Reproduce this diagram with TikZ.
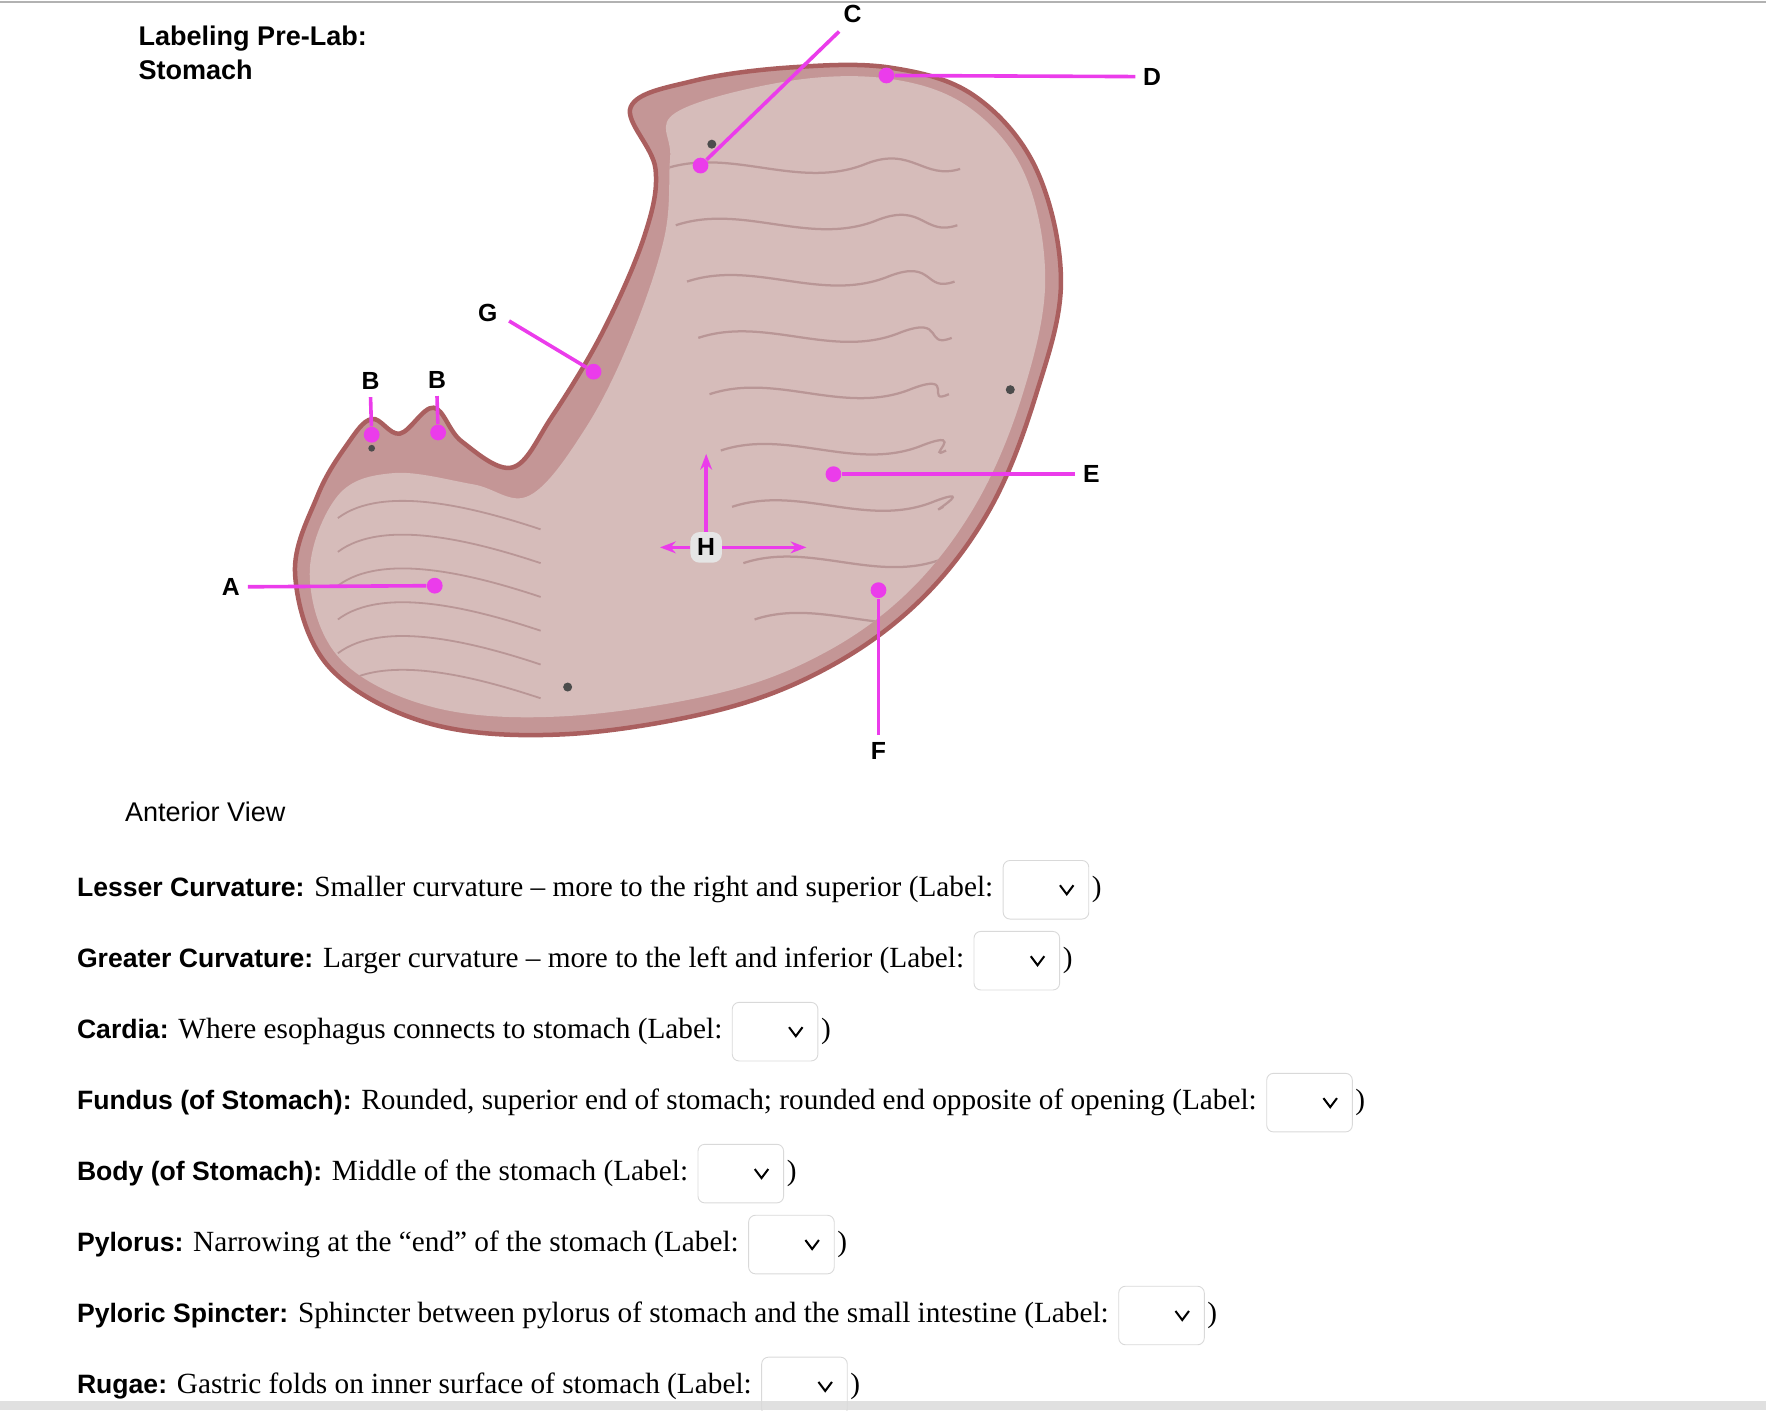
\documentclass[tikz,border=0pt]{standalone}
\usepackage{fontspec}
\setmainfont{Liberation Serif}
\setsansfont{Liberation Sans}
\usetikzlibrary{arrows.meta}
\definecolor{mag}{RGB}{235,60,235}
\definecolor{stouter}{RGB}{196,150,150}
\definecolor{stedge}{RGB}{170,95,95}
\definecolor{stinner}{RGB}{214,188,186}
\definecolor{rug}{RGB}{185,150,150}
\newcommand\qhead{\sffamily\bfseries\fontsize{11.8}{14}\selectfont}
\tikzset{
 lead/.style={draw=mag,line width=1.6pt},
 dot/.style={circle,fill=mag,inner sep=0pt,minimum size=7pt},
 lab/.style={font=\sffamily\bfseries\fontsize{11}{12}\selectfont},
 qline/.style={anchor=west,inner sep=0pt,font=\fontsize{13}{15}\selectfont},
 dd/.style={draw=black!15,rounded corners=3pt,minimum width=38pt,minimum height=26pt,anchor=west,inner sep=0pt}
}
\begin{document}
\begin{tikzpicture}[x=0.5pt,y=-0.5pt]
\useasboundingbox (0,0) rectangle (1568,1252);
\draw[black!30,line width=1pt] (0,2) -- (1568,2);
\fill[black!12] (0,1244) rectangle (1568,1252);
% stomach
\draw[fill=stouter,draw=stedge,line width=2pt] plot[smooth cycle,tension=0.6] coordinates{
(560,95) (615,72) (700,60) (790,60) (865,85) (920,150) (942,250) (920,350) (880,450) (820,530) (740,590) (640,630) (500,652) (380,642) (292,592) (262,510) (282,440) (308,395) (330,372) (355,385) (385,362) (410,392) (455,415) (490,370) (535,295) (572,210) (582,150)};
\begin{scope}
\path[clip] plot[smooth cycle,tension=0.6] coordinates{
(600,100) (700,72) (790,70) (860,95) (910,155) (928,250) (908,350) (868,445) (810,522) (735,578) (640,615) (500,636) (385,628) (302,585) (275,510) (300,440) (350,420) (420,430) (470,440) (520,380) (560,300) (590,210) (595,140)};
\fill[stinner] (0,0) rectangle (1568,700);
\foreach \yy in {150,200,...,550}{
 \draw[rug,line width=1pt] (560+\yy*0.2,\yy) .. controls (620+\yy*0.2,\yy-20) and (680+\yy*0.2,\yy+20) .. (740+\yy*0.2,\yy-5) .. controls (780+\yy*0.2,\yy-20) and (820,\yy+10) .. (860-\yy*0.05,\yy);}
\foreach \yy in {460,490,...,610}{
 \draw[rug,line width=0.8pt] (300,\yy) .. controls (340,\yy-30) and (420,\yy-10) .. (480,\yy+10);}
\end{scope}
\fill[black!70] (632,128) circle (4);
\fill[black!70] (897,346) circle (4);
\fill[black!70] (504,610) circle (4);
\fill[black!70] (330,398) circle (3);
% title
\node[anchor=west,align=left,font=\sffamily\bfseries\fontsize{12}{15}\selectfont] (title) at (116,47) {Labeling Pre-Lab:\\Stomach};
\node[anchor=west,font=\sffamily\fontsize{12}{14}\selectfont] (av) at (104,721) {Anterior View};
% labels
\node[dot] (cd) at (622,147) {}; \node[lab] (c) at (757,12) {C};
\coordinate (ce) at (745,28); \draw[lead] (cd) -- (ce);
\node[dot] (dd) at (787,67) {}; \node[lab] (d) at (1023,68) {D};
\draw[lead] (dd) -- (d.west);
\node[dot] (gd) at (527,330) {}; \node[lab] (g) at (433,278) {G};
\coordinate (ge) at (452,285); \draw[lead] (gd) -- (ge);
\node[dot] (b1d) at (330,386) {}; \node[lab] (b1) at (329,338) {B};
\draw[lead] (b1d) -- (b1.south);
\node[dot] (b2d) at (389,384) {}; \node[lab] (b2) at (388,337) {B};
\draw[lead] (b2d) -- (b2.south);
\node[dot] (ed) at (740,421) {}; \node[lab] (e) at (969,421) {E};
\draw[lead] (ed) -- (e.west);
\node[dot] (ad) at (386,520) {}; \node[lab] (a) at (205,521) {A};
\draw[lead] (ad) -- (a.east);
\node[dot] (fd) at (780,524) {}; \node[lab] (f) at (780,667) {F};
\draw[lead] (fd) -- (f.north);
\node[lab,fill=black!10,rounded corners=4pt,inner sep=3pt] (h) at (627,486) {H};
\coordinate (hu) at (627,403); \coordinate (hl) at (586,486); \coordinate (hr) at (716,486);
\draw[lead,-{Stealth[length=7pt]}] (h) -- (hu);
\draw[lead,-{Stealth[length=7pt]}] (h) -- (hl);
\draw[lead,-{Stealth[length=7pt]}] (h) -- (hr);
% questions
\foreach \i/\yy/\hh/\tt in {
1/790/Lesser Curvature:/Smaller curvature -- more to the right and superior (Label:,
2/853/Greater Curvature:/Larger curvature -- more to the left and inferior (Label:,
3/916/Cardia:/Where esophagus connects to stomach (Label:,
4/979/Fundus (of Stomach):/{Rounded, superior end of stomach; rounded end opposite of opening (Label:},
5/1042/Body (of Stomach):/Middle of the stomach (Label:,
6/1105/Pylorus:/Narrowing at the “end” of the stomach (Label:,
7/1168/Pyloric Spincter:/Sphincter between pylorus of stomach and the small intestine (Label:,
8/1231/Rugae:/Gastric folds on inner surface of stomach (Label:}{
 \node[qline] (q\i) at (68,\yy) {{\qhead \hh} \tt};
 \node[dd] (box\i) at ([xshift=4pt]q\i.east) {};
 \draw[line width=0.9pt] ([xshift=-13pt,yshift=2pt]box\i.east) -- ++(6,8) -- ++(6,-8);
 \node[qline] (p\i) at ([xshift=1pt]box\i.east) {)};
}
\end{tikzpicture}
\end{document}
